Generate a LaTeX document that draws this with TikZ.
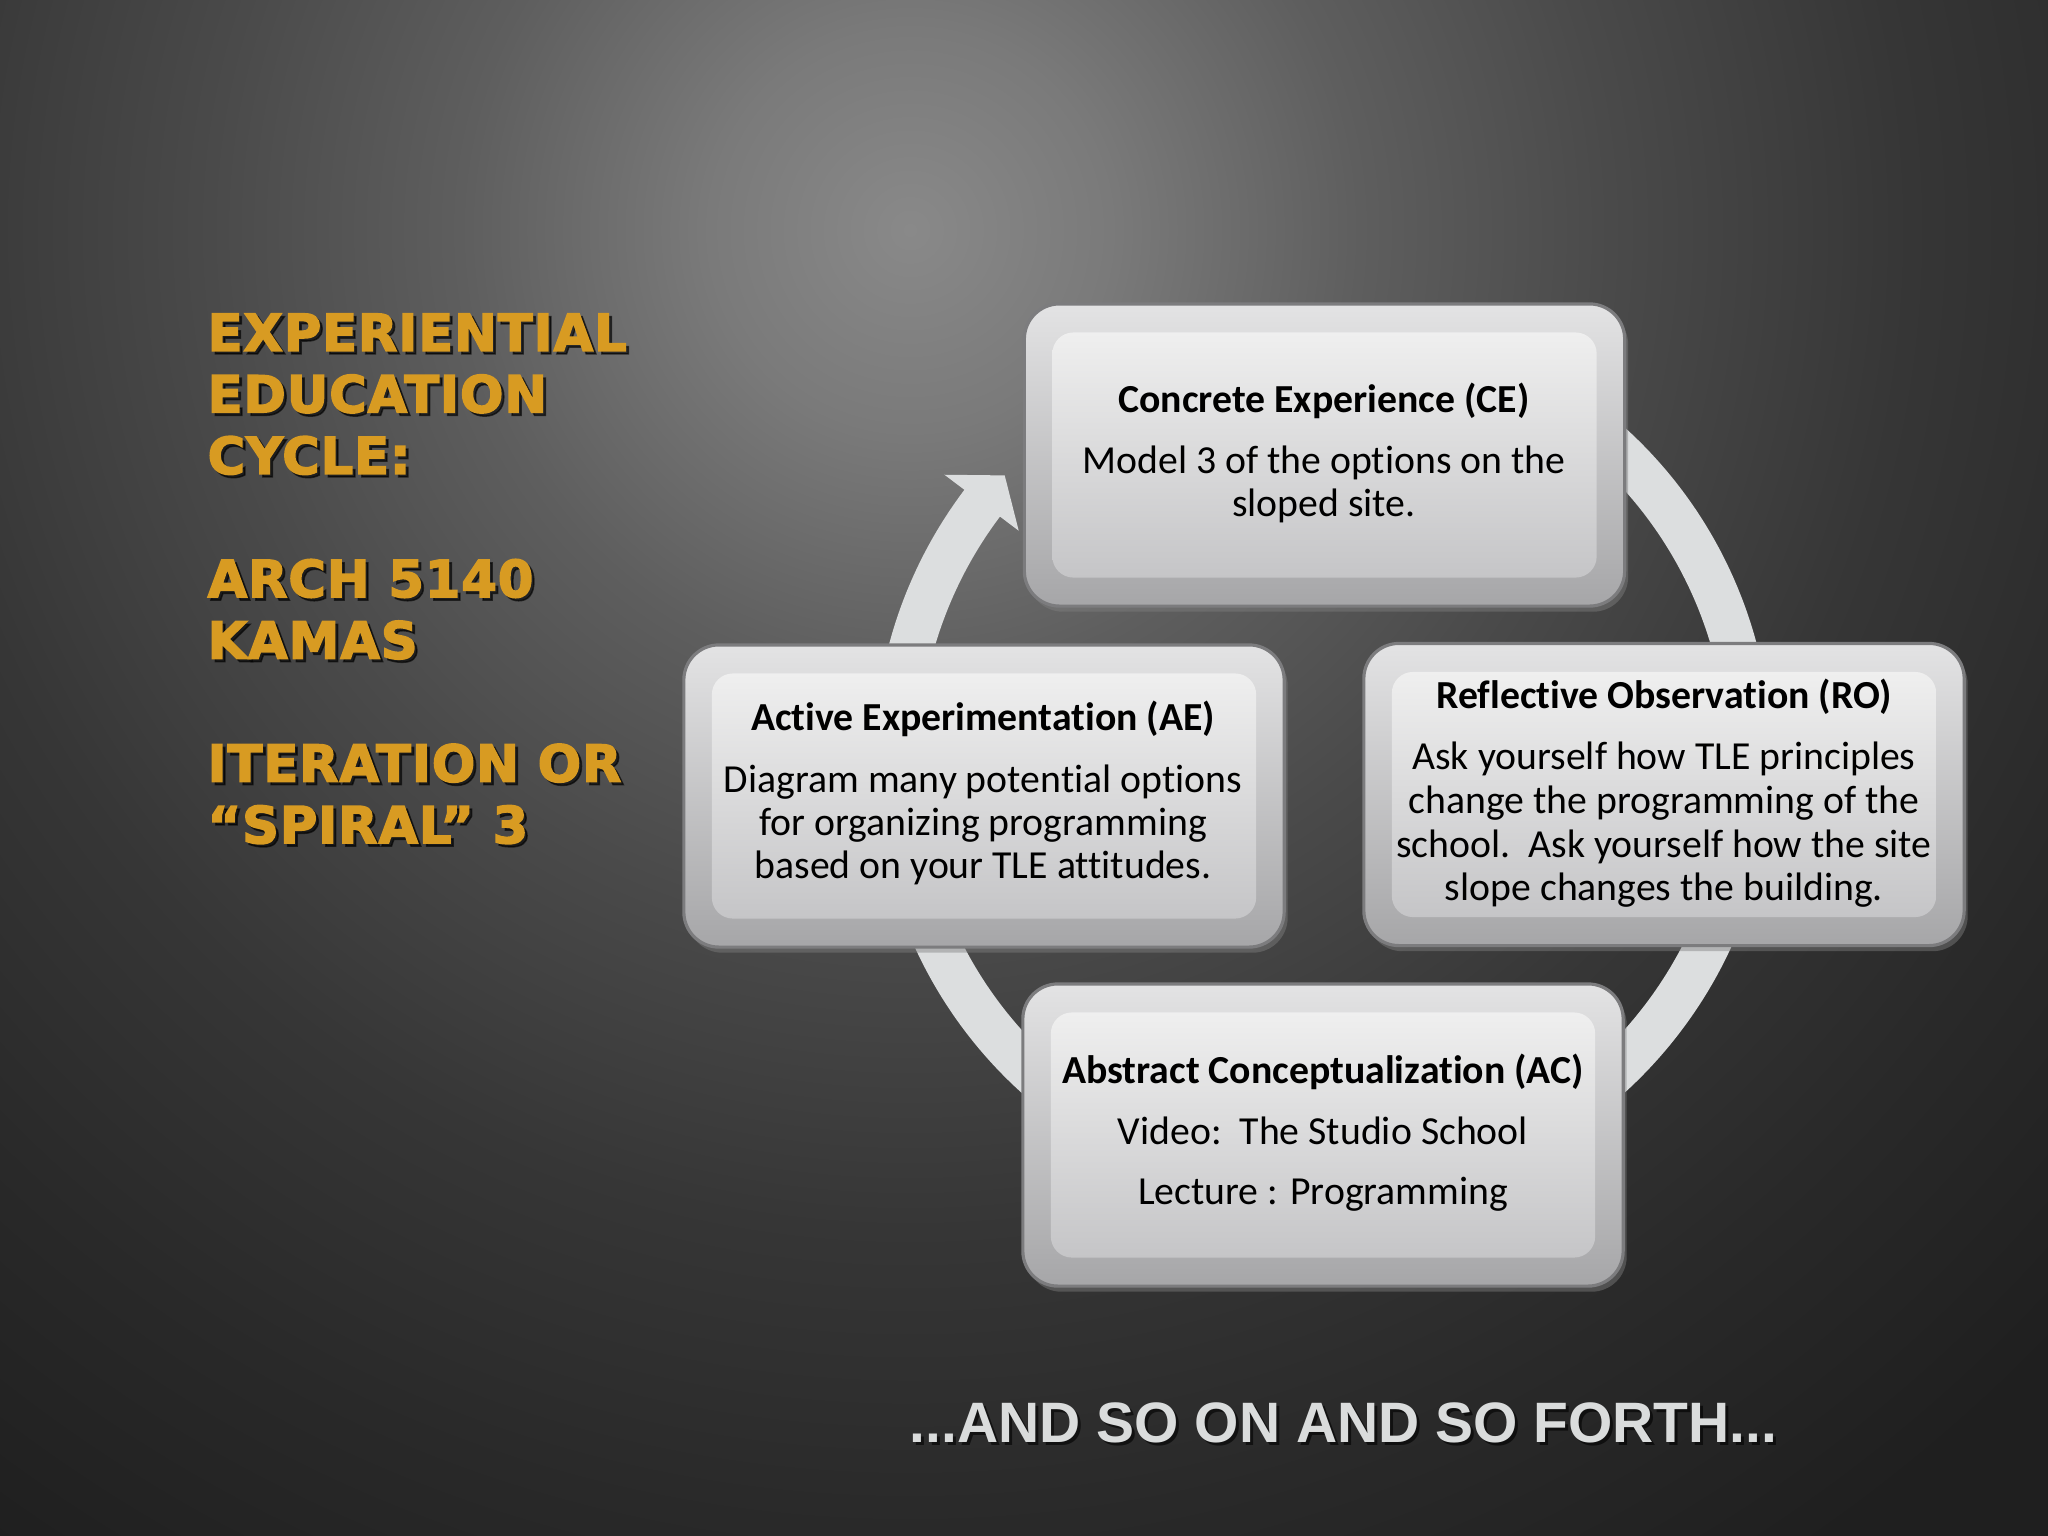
\documentclass[tikz,border=0pt]{standalone}
\usepackage{fontspec}
\setmainfont{Carlito}[Ligatures=NoCommon]
\newfontfamily\titlefont[LetterSpace=2, BoldFeatures={FakeBold=3}]{DejaVu Sans}
\newfontfamily\footfont{Liberation Sans}
\usetikzlibrary{shadows}
\definecolor{gold}{HTML}{D89B22}
\definecolor{ringc}{HTML}{DCDEDF}
\definecolor{boxtop}{HTML}{E3E3E4}
\definecolor{boxbot}{HTML}{A6A6A8}
\definecolor{inntop}{HTML}{EFEFEF}
\definecolor{innbot}{HTML}{C5C5C7}
\definecolor{boxedge}{HTML}{7C7C7E}
\definecolor{footc}{HTML}{DADCDC}
\definecolor{bg0}{HTML}{898989}
\definecolor{bg1}{HTML}{7A7A7A}
\definecolor{bg2}{HTML}{5E5E5E}
\definecolor{bg3}{HTML}{4A4A4A}
\definecolor{bg4}{HTML}{363636}
\definecolor{bg5}{HTML}{292929}
\definecolor{bg6}{HTML}{1F1F1F}
% radial shading: 25bp = path radius (2000 px), so 1bp = 80 px
\pgfdeclareradialshading{bgrad}{\pgfpoint{0bp}{0bp}}{color(0bp)=(bg0); color(2.5bp)=(bg1); color(5.625bp)=(bg2); color(8.75bp)=(bg3); color(12.5bp)=(bg4); color(16.25bp)=(bg5); color(20bp)=(bg6); color(50bp)=(bg6)}
\tikzset{
  outerbox/.style={rectangle, rounded corners=10pt, minimum width=6cm, minimum height=3.02cm, inner sep=0pt,
    draw=boxedge, line width=0.9pt, top color=boxtop, bottom color=boxbot,
    drop shadow={shadow xshift=1pt, shadow yshift=-1.6pt, opacity=0.45}},
  innerbox/.style={rectangle, rounded corners=6pt, minimum width=5.44cm, minimum height=2.45cm, inner sep=0pt,
    top color=inntop, bottom color=innbot},
  head/.style={anchor=base, inner sep=0pt, font=\fontsize{11.3pt}{12.5pt}\selectfont\bfseries, text=black},
  body/.style={anchor=base, inner sep=0pt, font=\fontsize{11.3pt}{12.5pt}\selectfont, text=black},
  titletext/.style={anchor=north west, inner sep=0pt, align=left, font=\titlefont\bfseries\fontsize{14.5pt}{17.5pt}\selectfont},
  foottext/.style={anchor=base, inner sep=0pt, font=\footfont\bfseries\fontsize{16.2pt}{19pt}\selectfont},
}
\begin{document}
\begin{tikzpicture}[x=0.01cm, y=-0.01cm]
\useasboundingbox (0,0) rectangle (2048,1536);
% background
\begin{scope}
\clip (0,0) rectangle (2048,1536);
\fill[bg6] (0,0) rectangle (2048,1536);
\shade[shading=bgrad] (910,230) circle (2000);
\end{scope}
% ring
\begin{scope}[shift={(1323,760)}]
\fill[ringc] (217.3:449) arc[start angle=217.3, end angle=-100, radius=449]
  -- (-100:404.5) arc[start angle=-100, end angle=217.3, radius=404.5] -- cycle;
\fill[ringc] (217:474) -- (221.8:427) -- (217:381) -- cycle;
\end{scope}
% boxes
\node[outerbox] (ce) at (1324.5,455) {};
\node[innerbox] (ce-in) at (ce.center) {};
\node[outerbox] (ro) at (1664,794.5) {};
\node[innerbox] (ro-in) at (ro.center) {};
\node[outerbox] (ac) at (1323,1135) {};
\node[innerbox] (ac-in) at (ac.center) {};
\node[outerbox] (ae) at (984,796) {};
\node[innerbox] (ae-in) at (ae.center) {};
% box texts
\node[head] (ce-h) at (1324,412) {Concrete Experience (CE)};
\node[body] (ce-1) at (1324,473) {Model 3 of the options on the};
\node[body] (ce-2) at (1324,516) {sloped site.};
\node[head] (ro-h) at (1664,708) {Reflective Observation (RO)};
\node[body] (ro-1) at (1664,769) {Ask yourself how TLE principles};
\node[body] (ro-2) at (1664,813) {change the programming of the};
\node[body] (ro-3) at (1664,857) {school.\ \ Ask yourself how the site};
\node[body] (ro-4) at (1664,900) {slope changes the building.};
\node[head] (ac-h) at (1323,1083) {Abstract Conceptualization (AC)};
\node[body] (ac-1) at (1323,1144) {Video:\ \ The Studio School};
\node[body] (ac-2) at (1323,1204) {Lecture : Programming};
\node[head] (ae-h) at (983,730) {Active Experimentation (AE)};
\node[body] (ae-1) at (983,792) {Diagram many potential options};
\node[body] (ae-2) at (983,835) {for organizing programming};
\node[body] (ae-3) at (983,878) {based on your TLE attitudes.};
% title
\node[titletext, text=black, opacity=0.6] (title-sh) at (210,316) {EXPERIENTIAL\\EDUCATION\\CYCLE:\\[17.5pt]ARCH 5140\\KAMAS\\[17.5pt]ITERATION OR\\“SPIRAL” 3};
\node[titletext, text=gold] (title) at (207,313) {EXPERIENTIAL\\EDUCATION\\CYCLE:\\[17.5pt]ARCH 5140\\KAMAS\\[17.5pt]ITERATION OR\\“SPIRAL” 3};
% footer
\node[foottext, text=black, opacity=0.6] (foot-sh) at (1346.5,1445) {...AND SO ON AND SO FORTH...};
\node[foottext, text=footc] (foot) at (1343.5,1442) {...AND SO ON AND SO FORTH...};
\end{tikzpicture}
\end{document}
